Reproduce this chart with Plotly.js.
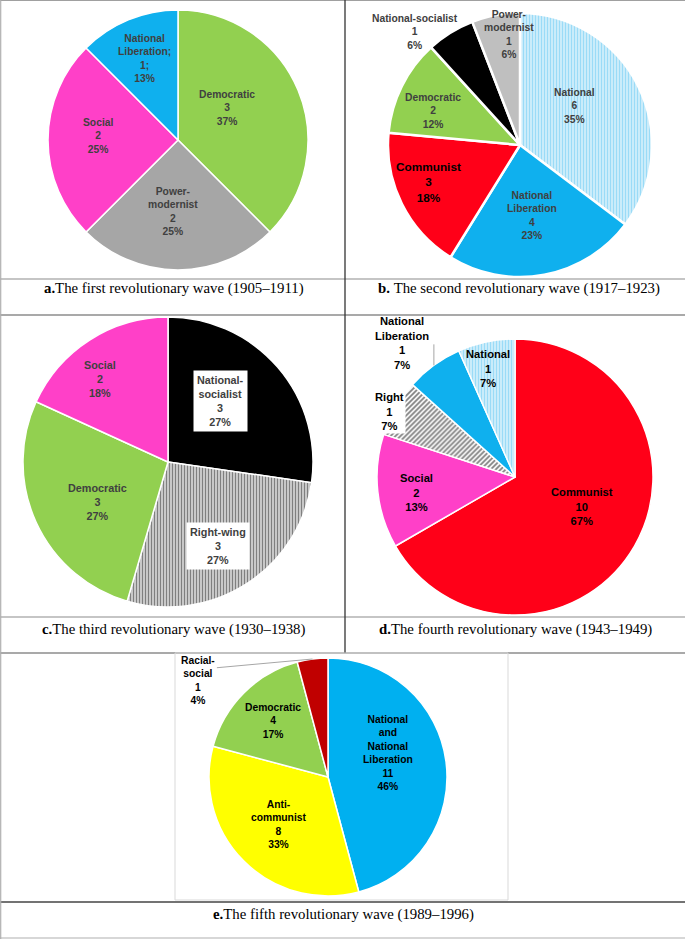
<!DOCTYPE html>
<html><head><meta charset="utf-8">
<script src="https://cdn.plot.ly/plotly-3.0.1.min.js"></script>
<style>html,body{margin:0;padding:0;background:#fff}#chart{width:685px;height:939px}</style>
</head><body><div id="chart"></div>
<script>
// ---------------- Data ----------------
const aLabels   = ['Democratic', 'Power-modernist', 'Social', 'National Liberation'];
const aValues   = [3, 2, 2, 1];
const aPercents = [37, 25, 25, 13];

const bLabels   = ['National', 'National Liberation', 'Communist', 'Democratic', 'National-socialist', 'Power-modernist'];
const bValues   = [6, 4, 3, 2, 1, 1];
const bPercents = [35, 23, 18, 12, 6, 6];

const cLabels   = ['National-socialist', 'Right-wing', 'Democratic', 'Social'];
const cValues   = [3, 3, 3, 2];
const cPercents = [27, 27, 27, 18];

const dLabels   = ['Communist', 'Social', 'Right', 'National Liberation', 'National'];
const dValues   = [10, 2, 1, 1, 1];
const dPercents = [67, 13, 7, 7, 7];

const eLabels   = ['National and National Liberation', 'Anti-communist', 'Democratic', 'Racial-social'];
const eValues   = [11, 8, 4, 1];
const ePercents = [46, 33, 17, 4];

const captionLetters = ['a.', 'b. ', 'c.', 'd.', 'e.'];
const captionTexts = [
  'The first revolutionary wave (1905–1911)',
  'The second revolutionary wave (1917–1923)',
  'The third revolutionary wave (1930–1938)',
  'The fourth revolutionary wave (1943–1949)',
  'The fifth revolutionary wave (1989–1996)'
];

// ---------------- Styles / layout ----------------
const W = 685, H = 939;
const px = x => x / W;
const py = y => 1 - y / H;

const GREEN = '#92D050', MAGENTA = '#FF40C8', CYAN = '#0FB0EE', GREY = '#A6A6A6',
      LGREY = '#BFBFBF', RED = '#FF0018', BLACK = '#000000', YELLOW = '#FFFF00', DRED = '#C00000';
const stripeBlue = {shape: '|', fgcolor: '#5CC6F2', bgcolor: '#D9F1FC', size: 3, solidity: 0.5};
const stripeBlack = {shape: '|', fgcolor: '#000000', bgcolor: '#FFFFFF', size: 3, solidity: 0.62};
const hatchBlack = {shape: '/', fgcolor: '#000000', bgcolor: '#FFFFFF', size: 3.5, solidity: 0.5};
const noPat = {shape: ''};

const pies = [
  { labels: aLabels, values: aValues, pct: aPercents,
    wrap: ['Democratic', 'Power-<br>modernist', 'Social', 'National<br>Liberation'],
    sep: ['<br>', '<br>', '<br>', ';<br>'],
    cx: 178, cy: 140, r: 130, lw: 1.5,
    colors: [GREEN, GREY, MAGENTA, CYAN], patterns: [noPat, noPat, noPat, noPat],
    rho: [0.45, 0.55, 0.62, 0.68], dphi: [-11, 4, 3, 0],
    fcolor: ['#404040', '#404040', '#404040', '#404040'], fsize: [10.3, 10.3, 10.3, 10.3], bg: [null, null, null, null] },
  { labels: bLabels, values: bValues, pct: bPercents,
    wrap: ['National', 'National<br>Liberation', 'Communist', 'Democratic', 'National-socialist', 'Power-<br>modernist'],
    sep: ['<br>', '<br>', '<br>', '<br>', '<br>', '<br>'],
    cx: 520, cy: 145, r: 132, lw: 2.5,
    colors: ['#9FDCF7', CYAN, RED, GREEN, BLACK, LGREY], patterns: [stripeBlue, noPat, noPat, noPat, noPat, noPat],
    rho: [0.51, 0.545, 0.75, 0.71, 1.17, 0.84], dphi: [-9, 1, 4, -5, -11, 5],
    fcolor: ['#404040', '#404040', '#000000', '#404040', '#404040', '#404040'], fsize: [10.3, 10.3, 11.8, 10.3, 10.3, 10.3],
    bg: [null, null, null, null, null, null] },
  { labels: cLabels, values: cValues, pct: cPercents,
    wrap: ['National-<br>socialist', 'Right-wing', 'Democratic', 'Social'],
    sep: ['<br>', '<br>', '<br>', '<br>'],
    cx: 168, cy: 462, r: 145, lw: 1.5,
    colors: [BLACK, '#808080', GREEN, MAGENTA], patterns: [noPat, stripeBlack, noPat, noPat],
    rho: [0.555, 0.67, 0.56, 0.74], dphi: [-8, 2, -5, -6.6],
    fcolor: ['#404040', '#404040', '#404040', '#404040'], fsize: [10.8, 10.8, 10.8, 10.8],
    bg: ['#FFFFFF', '#FFFFFF', null, null] },
  { labels: dLabels, values: dValues, pct: dPercents,
    wrap: ['Communist', 'Social', 'Right', 'National<br>Liberation', 'National'],
    sep: ['<br>', '<br>', '<br>', '<br>', '<br>'],
    cx: 515, cy: 477, r: 138, lw: 1.5,
    colors: [RED, MAGENTA, '#808080', CYAN, '#9FDCF7'], patterns: [noPat, noPat, hatchBlack, noPat, stripeBlue],
    rho: [0.53, 0.72, 1.03, 1.27, 0.81], dphi: [-6, -3, -2.4, -4, -2],
    fcolor: ['#000000', '#000000', '#000000', '#000000', '#000000'], fsize: [11.2, 11.2, 11.2, 11.2, 11.2],
    bg: [null, null, '#FFFFFF', null, null] },
  { labels: eLabels, values: eValues, pct: ePercents,
    wrap: ['National<br>and<br>National<br>Liberation', 'Anti-<br>communist', 'Democratic', 'Racial-<br>social'],
    sep: ['<br>', '<br>', '<br>', '<br>'],
    cx: 328, cy: 777, r: 119, lw: 1.5,
    colors: ['#00B0F0', YELLOW, GREEN, DRED], patterns: [noPat, noPat, noPat, noPat],
    rho: [0.54, 0.58, 0.66, 1.36], dphi: [-14, 1, 0.5, -46],
    fcolor: ['#000000', '#000000', '#000000', '#000000'], fsize: [10.3, 10.3, 10.3, 10.3],
    bg: [null, null, null, null] }
];

const captionPos = [[174, 288], [519, 288], [174, 629], [515, 629], [343, 914]];

const data = [];
const annotations = [];
const shapes = [];

// helper: polar position around a pie centre (angle clockwise from 12 o'clock)
function polar(p, rho, deg) {
  const t = deg * Math.PI / 180;
  return [p.cx + rho * Math.sin(t), p.cy - rho * Math.cos(t)];
}
function midAngles(values) {
  const total = values.reduce((s, v) => s + v, 0);
  let cum = 0;
  return values.map(v => { const m = (cum + v / 2) / total * 360; cum += v; return m; });
}

pies.forEach((p, k) => {
  data.push({
    type: 'pie', labels: p.labels, values: p.values, sort: false, direction: 'clockwise', rotation: 0,
    textinfo: 'none', hoverinfo: 'label+value+percent', showlegend: false,
    marker: { colors: p.colors, pattern: {
        shape: p.patterns.map(q => q.shape || ''),
        fgcolor: p.patterns.map(q => q.fgcolor || '#000'),
        bgcolor: p.patterns.map((q, i) => q.bgcolor || p.colors[i]),
        size: p.patterns.map(q => q.size || 8),
        solidity: p.patterns.map(q => q.solidity || 0.3),
        fillmode: 'overlay' },
      line: { color: '#FFFFFF', width: p.lw } },
    domain: { x: [px(p.cx - p.r), px(p.cx + p.r)], y: [py(p.cy + p.r), py(p.cy - p.r)] }
  });
  const mids = midAngles(p.values);
  p.labels.forEach((lab, i) => {
    const [x, y] = polar(p, p.rho[i] * p.r, mids[i] + p.dphi[i]);
    const txt = p.wrap[i] + p.sep[i] + p.values[i] + p.sep[i] + p.pct[i] + '%';
    const ann = {
      xref: 'paper', yref: 'paper', x: px(x), y: py(y), xanchor: 'center', yanchor: 'middle',
      text: txt, showarrow: false, align: 'center',
      font: { family: 'Liberation Sans, Arial, sans-serif', size: p.fsize[i], color: p.fcolor[i], weight: 'bold' }
    };
    if (p.bg[i]) { ann.bgcolor = p.bg[i]; ann.borderpad = (k === 3 ? 1 : 3); }
    annotations.push(ann);
  });
});

// leader lines (from slice edge at mid-angle)
{
  const p = pies[3]; const mids = midAngles(p.values);
  const [x0, y0] = polar(p, p.r, mids[3]);
  shapes.push({ type: 'line', xref: 'paper', yref: 'paper', x0: px(x0), y0: py(y0), x1: px(x0), y1: py(y0 - 21),
    line: { color: '#A6A6A6', width: 1 } });
}
{
  const p = pies[4]; const mids = midAngles(p.values);
  const [x0, y0] = polar(p, p.r, mids[3]);
  const [lx, ly] = polar(p, p.rho[3] * p.r, mids[3] + p.dphi[3]);
  shapes.push({ type: 'line', xref: 'paper', yref: 'paper', x0: px(x0), y0: py(y0), x1: px(lx + 19), y1: py(ly - 13),
    line: { color: '#A6A6A6', width: 1 } });
}

// captions
captionTexts.forEach((t, i) => {
  annotations.push({
    xref: 'paper', yref: 'paper', x: px(captionPos[i][0]), y: py(captionPos[i][1]), xanchor: 'center', yanchor: 'middle',
    showarrow: false, text: '<b>' + captionLetters[i] + '</b>' + t,
    font: { family: 'Liberation Serif, Times New Roman, serif', size: 14.8, color: '#000' }
  });
});

// table grid lines
function hline(y, x0, x1, c, w) { shapes.push({ type: 'line', xref: 'paper', yref: 'paper', x0: px(x0), x1: px(x1), y0: py(y), y1: py(y), line: { color: c, width: w } }); }
function vline(x, y0, y1, c, w) { shapes.push({ type: 'line', xref: 'paper', yref: 'paper', x0: px(x), x1: px(x), y0: py(y0), y1: py(y1), line: { color: c, width: w } }); }
hline(0.5, 0, W, '#A0A0A0', 1.2);
hline(279, 0, W, '#8C8C8C', 1.2);
hline(315, 0, W, '#555555', 1.2);
hline(617, 0, W, '#8C8C8C', 1.2);
hline(653, 0, W, '#555555', 1.2);
hline(902, 0, W, '#444444', 1.5);
hline(938, 0, W, '#B0B0B0', 1.2);
vline(0.7, 0, H, '#B0B0B0', 1.2);
vline(345, 0, 653, '#333333', 1.3);
shapes.push({ type: 'rect', xref: 'paper', yref: 'paper', x0: px(175), x1: px(508), y0: py(900), y1: py(653),
  line: { color: '#D9D9D9', width: 1 } });

const layout = {
  width: W, height: H, margin: { l: 0, r: 0, t: 0, b: 0 },
  paper_bgcolor: '#FFFFFF', plot_bgcolor: '#FFFFFF',
  showlegend: false, annotations: annotations, shapes: shapes
};
Plotly.newPlot('chart', data, layout, { staticPlot: true, displayModeBar: false });
</script>
</body></html>
